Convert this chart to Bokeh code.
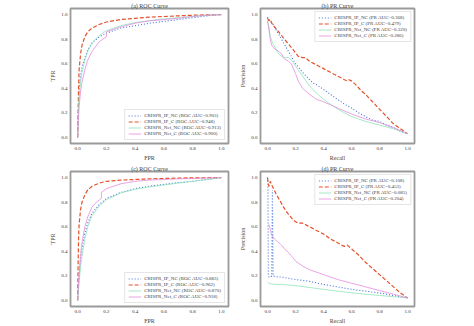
from bokeh.plotting import figure
from bokeh.layouts import gridplot
from bokeh.models import Range1d, FixedTicker, Legend, LegendItem
from bokeh.embed import file_html
from bokeh.resources import INLINE

# ---------------- data ----------------
series_names = ["CRISPR_IP_NC", "CRISPR_IP_C", "CRISPR_Net_NC", "CRISPR_Net_C"]

# (a) ROC
a_auc = ["0.903", "0.948", "0.913", "0.900"]
a_ipnc_x = [0, 0.005, 0.01, 0.02, 0.03, 0.05, 0.07, 0.09, 0.1, 0.15, 0.2, 0.3, 0.4, 0.5, 0.6, 0.7, 0.8, 0.9, 1.0]
a_ipnc_y = [0, 0.25, 0.38, 0.5, 0.57, 0.65, 0.71, 0.75, 0.77, 0.82, 0.85, 0.89, 0.91, 0.93, 0.945, 0.96, 0.975, 0.99, 1.0]
a_ipc_x = [0, 0.003, 0.006, 0.01, 0.02, 0.03, 0.05, 0.07, 0.1, 0.15, 0.2, 0.3, 0.4, 0.5, 0.6, 0.7, 0.8, 0.9, 1.0]
a_ipc_y = [0, 0.2, 0.4, 0.55, 0.68, 0.75, 0.82, 0.86, 0.89, 0.92, 0.94, 0.96, 0.97, 0.98, 0.985, 0.99, 0.995, 0.998, 1.0]
a_netnc_x = [0, 0.005, 0.01, 0.02, 0.03, 0.05, 0.07, 0.1, 0.15, 0.2, 0.3, 0.4, 0.5, 0.6, 0.7, 0.8, 0.9, 1.0]
a_netnc_y = [0, 0.2, 0.33, 0.45, 0.53, 0.63, 0.7, 0.77, 0.83, 0.87, 0.91, 0.935, 0.95, 0.965, 0.975, 0.985, 0.995, 1.0]
a_netc_x = [0, 0.005, 0.01, 0.02, 0.03, 0.05, 0.07, 0.1, 0.15, 0.2, 0.2, 0.3, 0.4, 0.5, 0.6, 0.7, 0.8, 0.9, 1.0]
a_netc_y = [0, 0.15, 0.25, 0.37, 0.45, 0.55, 0.63, 0.7, 0.78, 0.82, 0.86, 0.9, 0.93, 0.95, 0.96, 0.97, 0.985, 0.995, 1.0]

# (b) PR
b_auc = ["0.368", "0.479", "0.320", "0.286"]
b_ipnc_x = [0, 0.01, 0.02, 0.04, 0.06, 0.08, 0.1, 0.12, 0.15, 0.18, 0.2, 0.25, 0.3, 0.33, 0.35, 0.4, 0.45, 0.5, 0.55, 0.6, 0.65, 0.7, 0.75, 0.8, 0.85, 0.9, 0.95, 1.0]
b_ipnc_y = [0.98, 0.96, 0.95, 0.92, 0.88, 0.84, 0.8, 0.76, 0.7, 0.64, 0.6, 0.53, 0.47, 0.44, 0.43, 0.39, 0.35, 0.31, 0.27, 0.24, 0.2, 0.17, 0.14, 0.13, 0.1, 0.08, 0.05, 0.03]
b_ipc_x = [0, 0.01, 0.02, 0.03, 0.05, 0.08, 0.1, 0.12, 0.15, 0.18, 0.2, 0.22, 0.25, 0.27, 0.3, 0.35, 0.4, 0.45, 0.5, 0.55, 0.57, 0.58, 0.6, 0.63, 0.67, 0.7, 0.75, 0.8, 0.85, 0.9, 0.95, 1.0]
b_ipc_y = [0.97, 0.95, 0.96, 0.93, 0.9, 0.86, 0.83, 0.8, 0.76, 0.72, 0.69, 0.66, 0.65, 0.65, 0.62, 0.59, 0.56, 0.53, 0.5, 0.47, 0.46, 0.47, 0.46, 0.43, 0.38, 0.35, 0.29, 0.23, 0.17, 0.11, 0.07, 0.03]
b_netnc_x = [0, 0.01, 0.02, 0.04, 0.06, 0.08, 0.1, 0.12, 0.15, 0.18, 0.2, 0.25, 0.3, 0.35, 0.4, 0.45, 0.5, 0.6, 0.7, 0.8, 0.9, 1.0]
b_netnc_y = [0.95, 0.9, 0.82, 0.76, 0.72, 0.68, 0.66, 0.65, 0.65, 0.62, 0.58, 0.5, 0.42, 0.36, 0.31, 0.27, 0.23, 0.17, 0.13, 0.1, 0.07, 0.03]
b_netc_x = [0, 0.01, 0.02, 0.03, 0.05, 0.08, 0.1, 0.12, 0.15, 0.17, 0.2, 0.22, 0.25, 0.3, 0.35, 0.4, 0.5, 0.6, 0.7, 0.8, 0.9, 1.0]
b_netc_y = [0.95, 0.88, 0.8, 0.75, 0.72, 0.7, 0.68, 0.64, 0.62, 0.6, 0.52, 0.46, 0.4, 0.35, 0.31, 0.29, 0.24, 0.19, 0.15, 0.12, 0.08, 0.03]

# (c) ROC
c_auc = ["0.883", "0.962", "0.870", "0.918"]
c_ipnc_x = [0, 0.005, 0.01, 0.02, 0.03, 0.05, 0.07, 0.1, 0.15, 0.2, 0.3, 0.4, 0.5, 0.6, 0.7, 0.8, 0.9, 1.0]
c_ipnc_y = [0, 0.1, 0.2, 0.33, 0.42, 0.55, 0.63, 0.71, 0.78, 0.83, 0.88, 0.91, 0.93, 0.945, 0.96, 0.97, 0.985, 1.0]
c_ipc_x = [0, 0.003, 0.006, 0.01, 0.02, 0.03, 0.05, 0.07, 0.1, 0.15, 0.2, 0.3, 0.4, 0.5, 0.6, 0.7, 0.8, 0.9, 1.0]
c_ipc_y = [0, 0.3, 0.5, 0.62, 0.74, 0.8, 0.86, 0.9, 0.93, 0.955, 0.97, 0.98, 0.985, 0.99, 0.993, 0.996, 0.998, 0.999, 1.0]
c_netnc_x = [0, 0.005, 0.01, 0.02, 0.03, 0.05, 0.07, 0.1, 0.15, 0.2, 0.3, 0.4, 0.5, 0.6, 0.7, 0.8, 0.9, 1.0]
c_netnc_y = [0, 0.08, 0.15, 0.27, 0.36, 0.5, 0.6, 0.69, 0.77, 0.82, 0.875, 0.905, 0.925, 0.94, 0.955, 0.97, 0.985, 1.0]
c_netc_x = [0, 0.005, 0.01, 0.02, 0.03, 0.05, 0.07, 0.1, 0.13, 0.165, 0.165, 0.2, 0.3, 0.4, 0.5, 0.6, 0.7, 0.8, 0.9, 1.0]
c_netc_y = [0, 0.12, 0.22, 0.37, 0.47, 0.6, 0.68, 0.76, 0.8, 0.83, 0.88, 0.91, 0.95, 0.97, 0.98, 0.985, 0.99, 0.993, 0.997, 1.0]

# (d) PR
d_auc = ["0.108", "0.453", "0.085", "0.204"]
d_ipnc_x = [0, 0.003, 0.006, 0.01, 0.02, 0.03, 0.035, 0.04, 0.05, 0.08, 0.1, 0.15, 0.2, 0.3, 0.4, 0.5, 0.6, 0.7, 0.8, 0.9, 1.0]
d_ipnc_y = [1.0, 0.95, 0.2, 0.19, 0.2, 0.195, 0.9, 0.2, 0.195, 0.19, 0.19, 0.18, 0.17, 0.155, 0.13, 0.11, 0.09, 0.075, 0.06, 0.04, 0.02]
d_ipc_x = [0, 0.005, 0.01, 0.02, 0.03, 0.06, 0.08, 0.11, 0.13, 0.15, 0.18, 0.2, 0.22, 0.25, 0.3, 0.35, 0.4, 0.45, 0.5, 0.53, 0.55, 0.57, 0.6, 0.65, 0.7, 0.75, 0.8, 0.85, 0.9, 0.95, 1.0]
d_ipc_y = [1.0, 0.95, 0.93, 0.97, 0.94, 0.87, 0.83, 0.77, 0.73, 0.7, 0.66, 0.64, 0.63, 0.63, 0.6, 0.57, 0.54, 0.5, 0.47, 0.45, 0.44, 0.45, 0.42, 0.37, 0.31, 0.26, 0.21, 0.16, 0.11, 0.06, 0.02]
d_netnc_x = [0, 0.01, 0.02, 0.05, 0.1, 0.15, 0.2, 0.3, 0.4, 0.5, 0.6, 0.7, 0.8, 0.9, 1.0]
d_netnc_y = [0.15, 0.14, 0.135, 0.13, 0.13, 0.125, 0.12, 0.105, 0.09, 0.075, 0.062, 0.05, 0.04, 0.03, 0.02]
d_netc_x = [0.01, 0.02, 0.03, 0.05, 0.07, 0.1, 0.13, 0.15, 0.18, 0.2, 0.25, 0.3, 0.4, 0.5, 0.6, 0.7, 0.8, 0.9, 1.0]
d_netc_y = [0.62, 0.58, 0.53, 0.5, 0.48, 0.45, 0.41, 0.39, 0.35, 0.32, 0.28, 0.25, 0.21, 0.17, 0.14, 0.11, 0.08, 0.05, 0.02]

ticks = [0.0, 0.2, 0.4, 0.6, 0.8, 1.0]

# ---------------- style ----------------
FONT = "Liberation Serif"
colors = ["#3f6fe0", "#e2522b", "#8fe3b8", "#e48ddc"]
dashes = ["1 2", "4 2", "solid", "solid"]
widths = [1.1, 1.2, 0.8, 0.8]


def make_panel(title, xlab, ylab, curves, kind, aucs, left, right, legend_loc):
    p = figure(width=237, height=163, output_backend="svg", toolbar_location=None,
               x_range=Range1d(-0.05, 1.05), y_range=Range1d(-0.05, 1.05),
               min_border_left=left, min_border_right=right,
               min_border_top=7, min_border_bottom=18)
    p.title.text = title
    p.title.text_font = FONT
    p.title.text_font_size = "6px"
    p.title.text_font_style = "normal"
    p.title.align = "center"
    p.title.standoff = 0
    p.title.offset = 0
    p.grid.visible = False
    p.outline_line_color = "#9a9a9a"
    p.outline_line_width = 1.8
    for ax in (p.xaxis[0], p.yaxis[0]):
        ax.ticker = FixedTicker(ticks=ticks)
        ax.axis_line_color = None
        ax.major_tick_out = 0
        ax.major_tick_in = 0
        ax.minor_tick_out = 0
        ax.minor_tick_in = 0
        ax.major_label_text_font = FONT
        ax.major_label_text_font_size = "5px"
        ax.major_label_text_color = "#333333"
        ax.axis_label_text_font = FONT
        ax.axis_label_text_font_size = "6px"
        ax.axis_label_text_font_style = "normal"
        ax.major_label_standoff = 3
        ax.axis_label_standoff = 2
    p.xaxis.axis_label = xlab
    p.yaxis.axis_label = ylab
    p.xaxis.major_label_overrides = {t: f"{t:.1f}" for t in ticks}
    p.yaxis.major_label_overrides = {t: f"{t:.1f}" for t in ticks}

    items = []
    for i, (xs, ys) in enumerate(curves):
        r = p.line(xs, ys, line_color=colors[i], line_width=widths[i], line_dash=dashes[i])
        items.append(LegendItem(label=f"{series_names[i]} ({kind} AUC={aucs[i]})", renderers=[r]))
    lg = Legend(items=items, location=legend_loc)
    lg.label_text_font = FONT
    lg.label_text_font_size = "5px"
    lg.label_height = 5
    lg.glyph_height = 5
    lg.glyph_width = 13
    lg.spacing = 1
    lg.padding = 3
    lg.margin = 3
    lg.label_standoff = 3
    lg.border_line_color = "#cccccc"
    lg.border_line_width = 0.8
    lg.background_fill_alpha = 0.9
    p.add_layout(lg, "center")
    return p


pa = make_panel("(a) ROC Curve", "FPR", "TPR",
                [(a_ipnc_x, a_ipnc_y), (a_ipc_x, a_ipc_y), (a_netnc_x, a_netnc_y), (a_netc_x, a_netc_y)],
                "ROC", a_auc, 70, 9, "bottom_right")
pb = make_panel("(b) PR Curve", "Recall", "Precision",
                [(b_ipnc_x, b_ipnc_y), (b_ipc_x, b_ipc_y), (b_netnc_x, b_netnc_y), (b_netc_x, b_netc_y)],
                "PR", b_auc, 21, 60, "top_right")
pc = make_panel("(c) ROC Curve", "FPR", "TPR",
                [(c_ipnc_x, c_ipnc_y), (c_ipc_x, c_ipc_y), (c_netnc_x, c_netnc_y), (c_netc_x, c_netc_y)],
                "ROC", c_auc, 70, 9, "bottom_right")
pd_ = make_panel("(d) PR Curve", "Recall", "Precision",
                 [(d_ipnc_x, d_ipnc_y), (d_ipc_x, d_ipc_y), (d_netnc_x, d_netnc_y), (d_netc_x, d_netc_y)],
                 "PR", d_auc, 21, 60, "top_right")

grid = gridplot([[pa, pb], [pc, pd_]], toolbar_location=None)

open("out.html", "w").write(file_html(grid, INLINE))
